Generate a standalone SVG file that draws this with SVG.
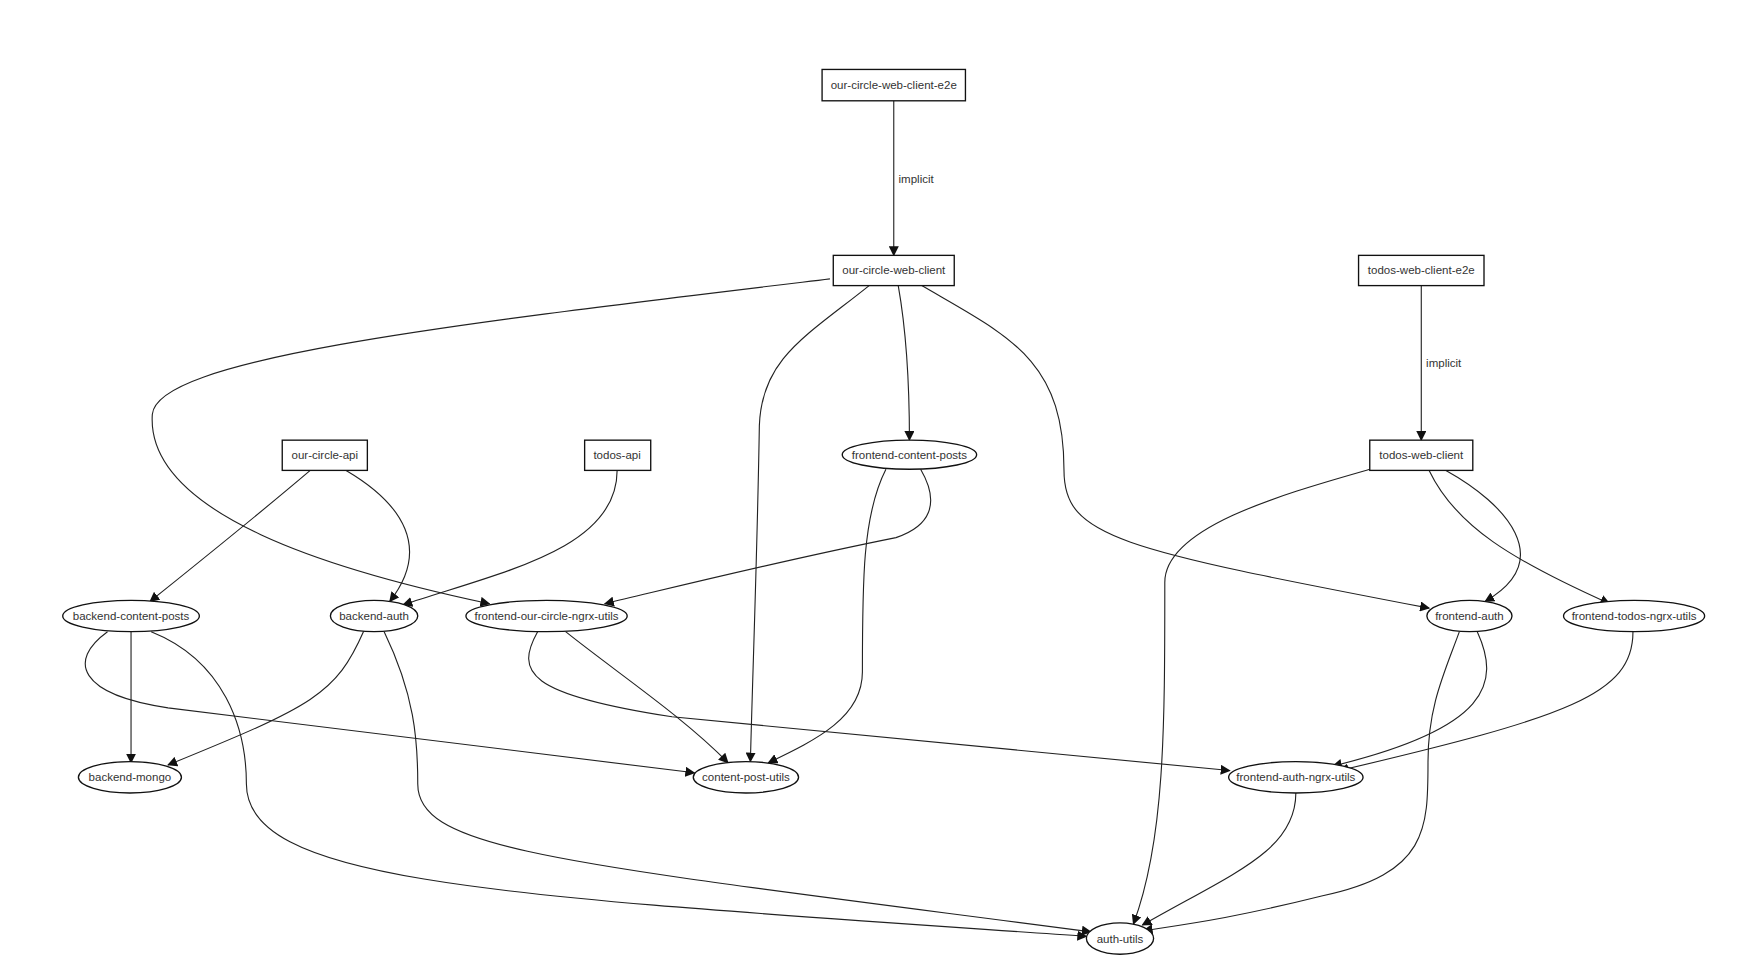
<svg xmlns="http://www.w3.org/2000/svg" width="1756" height="964" viewBox="0 0 1756 964">
<style>
.n rect,.n ellipse{fill:#fff;stroke:#111;stroke-width:1.2}
.n text,.lbl{font-family:"Liberation Sans",Arial,sans-serif;font-size:10.3px;fill:#333;text-anchor:middle;dominant-baseline:central}
.e path{fill:none;stroke:#222;stroke-width:1;marker-end:url(#a)}
</style>
<defs><marker id="a" viewBox="0 0 10 10" refX="9" refY="5" markerWidth="9" markerHeight="9" markerUnits="userSpaceOnUse" orient="auto"><path d="M0,0L10,5L0,10z" fill="#111"/></marker></defs>
<rect width="1756" height="964" fill="#fff"/>
<g transform="scale(1.12)">
<g class="e">
<path d="M798,90V228"/>
<path d="M1269,255V393"/>
<path d="M741,249C400,290 140,320 136,370C130,460 300,510 437,539"/>
<path d="M776,255C720,300 680,320 678,380C676,500 672,600 670,680"/>
<path d="M802,255C810,300 812,350 812,393"/>
<path d="M823,255C900,300 950,320 950,420C950,480 1000,490 1276,543"/>
<path d="M277,420C230,460 180,500 134,537"/>
<path d="M309,420C360,450 385,490 348,537"/>
<path d="M551,420C551,490 450,510 360,540"/>
<path d="M822,419C840,450 830,470 800,480C700,500 620,520 540,539"/>
<path d="M791,419C770,460 770,520 770,600C770,640 730,660 686,681"/>
<path d="M1223,419C1150,440 1040,470 1040,520C1040,650 1040,750 1012,825"/>
<path d="M1291,420C1345,450 1390,500 1326,537"/>
<path d="M1276,420C1300,470 1350,500 1437,539"/>
<path d="M117,564V681"/>
<path d="M96,564C60,590 70,620 150,632C300,650 450,670 620,690"/>
<path d="M135,564C200,590 220,650 220,700C220,790 450,800 970,836"/>
<path d="M325,563C300,620 280,630 150,683"/>
<path d="M343,564C370,620 373,660 373,700C373,760 500,770 974,832"/>
<path d="M505,564C550,600 610,640 650,681"/>
<path d="M480,564C460,600 470,620 600,640C800,660 1000,680 1098,688"/>
<path d="M1303,564C1290,600 1275,630 1275,680C1275,740 1275,780 1180,800C1100,820 1060,825 1021,831"/>
<path d="M1319,564C1340,610 1330,650 1190,684"/>
<path d="M1458,564C1458,620 1400,640 1196,688"/>
<path d="M1157,708C1157,760 1100,780 1020,826"/>
</g>
<text class="lbl" x="818" y="160">implicit</text>
<text class="lbl" x="1289" y="324">implicit</text>
<g class="n" id="our-circle-web-client-e2e"><rect x="734" y="62" width="128" height="28"/><text x="798" y="76">our-circle-web-client-e2e</text></g>
<g class="n" id="our-circle-web-client"><rect x="744" y="228" width="108" height="27"/><text x="798" y="241">our-circle-web-client</text></g>
<g class="n" id="todos-web-client-e2e"><rect x="1213" y="228" width="112" height="27"/><text x="1269" y="241">todos-web-client-e2e</text></g>
<g class="n" id="our-circle-api"><rect x="252" y="393" width="76" height="27"/><text x="290" y="406">our-circle-api</text></g>
<g class="n" id="todos-api"><rect x="522" y="393" width="59" height="27"/><text x="551" y="406">todos-api</text></g>
<g class="n" id="frontend-content-posts"><ellipse cx="812" cy="406" rx="60" ry="13"/><text x="812" y="406">frontend-content-posts</text></g>
<g class="n" id="todos-web-client"><rect x="1223" y="393" width="92" height="27"/><text x="1269" y="406">todos-web-client</text></g>
<g class="n" id="backend-content-posts"><ellipse cx="117" cy="550" rx="61" ry="14"/><text x="117" y="550">backend-content-posts</text></g>
<g class="n" id="backend-auth"><ellipse cx="334" cy="550" rx="39" ry="14"/><text x="334" y="550">backend-auth</text></g>
<g class="n" id="frontend-our-circle-ngrx-utils"><ellipse cx="488" cy="550" rx="72" ry="14"/><text x="488" y="550">frontend-our-circle-ngrx-utils</text></g>
<g class="n" id="frontend-auth"><ellipse cx="1312" cy="550" rx="38" ry="14"/><text x="1312" y="550">frontend-auth</text></g>
<g class="n" id="frontend-todos-ngrx-utils"><ellipse cx="1459" cy="550" rx="63" ry="14"/><text x="1459" y="550">frontend-todos-ngrx-utils</text></g>
<g class="n" id="backend-mongo"><ellipse cx="116" cy="694" rx="46" ry="14"/><text x="116" y="694">backend-mongo</text></g>
<g class="n" id="content-post-utils"><ellipse cx="666" cy="694" rx="47" ry="14"/><text x="666" y="694">content-post-utils</text></g>
<g class="n" id="frontend-auth-ngrx-utils"><ellipse cx="1157" cy="694" rx="60" ry="14"/><text x="1157" y="694">frontend-auth-ngrx-utils</text></g>
<g class="n" id="auth-utils"><ellipse cx="1000" cy="838" rx="30" ry="14"/><text x="1000" y="838">auth-utils</text></g>
</g>
</svg>
